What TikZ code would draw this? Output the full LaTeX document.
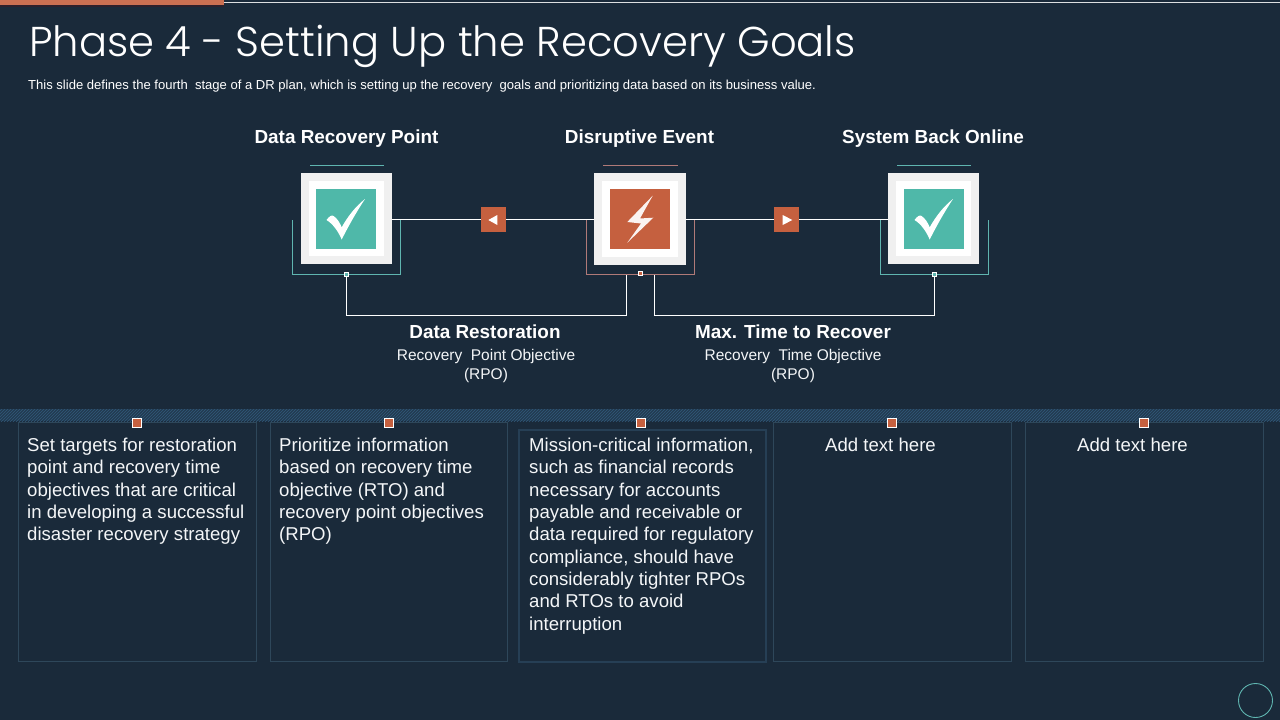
\documentclass[tikz,border=0pt]{standalone}
\usepackage{fontspec}
\usetikzlibrary{patterns}
\setmainfont{Liberation Sans}
\newfontfamily\titlefont{Poppins Light}
\definecolor{bgc}{HTML}{1A2A3A}
\definecolor{redc}{HTML}{C5603F}
\definecolor{tealc}{HTML}{4FB8A9}
\definecolor{tealline}{HTML}{5FB5B0}
\definecolor{redline}{HTML}{B07A78}
\definecolor{cardc}{HTML}{2E475A}
\definecolor{cardd}{HTML}{263F55}
\definecolor{bandc}{HTML}{223B51}
\definecolor{bandl}{HTML}{31597A}
\definecolor{txtc}{HTML}{F4F6F8}
\tikzset{
 x=1pt,y=-1pt,
 outerb/.style={fill=white,draw=black!6,line width=8pt,minimum size=83.3pt,inner sep=0pt,outer sep=4pt},
 tealb/.style={fill=tealc,minimum size=60pt,inner sep=0pt},
 redb/.style={fill=redc,minimum size=60pt,inner sep=0pt},
 arrowb/.style={fill=redc,minimum size=25pt,inner sep=0pt},
 conn/.style={draw=white,line width=1pt},
 tline/.style={draw=tealline,line width=.9pt},
 rline/.style={draw=redline,line width=.9pt},
 dotb/.style={draw=white,line width=.8pt,minimum size=4pt,inner sep=0pt},
 markb/.style={fill=redc,draw=white,line width=.9pt,minimum size=9pt,inner sep=0pt},
 cardb/.style={draw=cardc,line width=.9pt,inner sep=0pt},
 bodyt/.style={text=txtc,align=left,anchor=north west,inner sep=0pt,font=\fontsize{18.6}{22.3}\selectfont},
 headt/.style={text=white,align=center,inner sep=0pt,anchor=base,font=\fontsize{18.9}{22}\selectfont\bfseries},
 subt/.style={text=txtc,align=center,inner sep=0pt,anchor=north,font=\fontsize{15.5}{19}\selectfont},
}
\begin{document}
\begin{tikzpicture}
\useasboundingbox (0,0) rectangle (1280,720);
\fill[bgc] (0,0) rectangle (1280,720);
% top bar
\fill[black!60!red!25!bgc] (0,5) rectangle (224,7);
\fill[redc!90!white] (0,0) rectangle (224,5);
\draw[draw=white!85!bgc,line width=1pt] (224,2.5) -- (1280,2.5);
% title
\node[anchor=base west,inner sep=0pt,text=white,font=\titlefont\fontsize{41.7}{50}\selectfont] (title) at (29,56) {Phase 4 - Setting Up the Recovery Goals};
\node[anchor=base west,inner sep=0pt,text=white,font=\fontsize{13.05}{15}\selectfont] (sub) at (28,89) {This slide defines the fourth\ \ stage of a DR plan, which is setting up the recovery\ \ goals and prioritizing data based on its business value.};
% headings
\node[headt] (h1) at (346.5,143.5) {Data Recovery Point};
\node[headt] (h2) at (639.5,143.5) {Disruptive Event};
\node[headt] (h3) at (933,143.5) {System Back Online};
% boxes
\node[outerb] (b1) at (346.5,218.5) {};
\node[outerb,minimum size=84pt] (b2) at (640,218.5) {};
\node[outerb] (b3) at (933.5,218.5) {};
\node[tealb] (i1) at (346,219) {};
\node[redb] (i2) at (640,219) {};
\node[tealb] (i3) at (934,219) {};
% check marks
\foreach \cx in {346,934}{
 \fill[white] (\cx-19.5,220) .. controls (\cx-17,216.5) and (\cx-14,214.5) .. (\cx-12.5,216)
   .. controls (\cx-9,218) and (\cx-6,223) .. (\cx-4.3,227.3)
   .. controls (\cx+2,216) and (\cx+10,206) .. (\cx+19,199)
   .. controls (\cx+11,211) and (\cx+3,225) .. (\cx-4.3,239.5)
   .. controls (\cx-8,231) and (\cx-13,224) .. (\cx-19.5,220) -- cycle;
}
% bolt
\fill[white!92!redc] (652.7,195.7) -- (627.3,222) -- (641,223.5) -- (627.3,242.7) -- (653.3,217.7) -- (640,218.5) -- cycle;
% arrows
\node[arrowb] (al) at (493.5,219.5) {};
\node[arrowb] (ar) at (786.5,219.5) {};
\fill[white] (488.3,220) -- (497.3,215) -- (497.3,225) -- cycle;
\fill[white] (792.3,220) -- (782.7,215) -- (782.7,225) -- cycle;
% brackets
\draw[tline] (310,165.5) -- (384,165.5);
\draw[rline] (603,165.5) -- (678,165.5);
\draw[tline] (897,165.5) -- (971,165.5);
\coordinate (m1) at (346,274);
\coordinate (m2) at (640.5,273.5);
\coordinate (m3) at (934.5,274);
\draw[tline] (292.5,220) |- (400.5,274.5) -- (400.5,220);
\draw[rline] (586.5,220) |- (694.5,274.5) -- (694.5,220);
\draw[tline] (880.5,220) |- (988.5,274.5) -- (988.5,220);
% horizontal connectors
\draw[conn] (b1.east |- al) -- (al.west);
\draw[conn] (al.east) -- (b2.west |- al);
\draw[conn] (b2.east |- ar) -- (ar.west);
\draw[conn] (ar.east) -- (b3.west |- ar);
% lower connectors
\coordinate (j1) at (626.5,275);
\coordinate (j2) at (654.5,275);
\node[dotb,fill=tealline] (d1) at (m1) {};
\node[dotb,fill=redc] (d2) at (m2) {};
\node[dotb,fill=tealline] (d3) at (m3) {};
\draw[conn] (d1.south) |- (626.5,315.5) -- (j1);
\draw[conn] (j2) -- (654.5,315.5) -| (d3.south);
% lower labels
\node[headt] (l1) at (485,338) {Data Restoration};
\node[headt] (l2) at (793,338) {Max. Time to Recover};
\node[subt] (s1) at (486,349) {Recovery\ \ Point Objective\\(RPO)};
\node[subt] (s2) at (793,349) {Recovery\ \ Time Objective\\(RPO)};
% band
\fill[bandc] (0,409) rectangle (1280,421);
\fill[pattern=north east lines,pattern color=bandl] (0,409) rectangle (1280,421);
% cards
\draw[cardb] (18.5,422) rectangle (256.5,661);
\draw[cardb] (270.5,422) rectangle (507.5,661);
\draw[cardb,draw=cardd,line width=2pt] (519,429.5) rectangle (766,661.5);
\draw[cardb] (773.5,422) rectangle (1011.5,661);
\draw[cardb] (1025.5,422) rectangle (1263.5,661);
% markers
\node[markb] (k1) at (137,423) {};
\node[markb] (k2) at (389,423) {};
\node[markb] (k3) at (640.5,423) {};
\node[markb] (k4) at (892,423) {};
\node[markb] (k5) at (1144,423) {};
% texts
\node[bodyt] (t1) at (27,438) {Set targets for restoration\\point and recovery time\\objectives that are critical\\in developing a successful\\disaster recovery strategy};
\node[bodyt] (t2) at (279,438) {Prioritize information\\based on recovery time\\objective (RTO) and\\recovery point objectives\\(RPO)};
\node[bodyt] (t3) at (529,438) {Mission-critical information,\\such as financial records\\necessary for accounts\\payable and receivable or\\data required for regulatory\\compliance, should have\\considerably tighter RPOs\\and RTOs to avoid\\interruption};
\node[bodyt,anchor=north] (t4) at (880.5,438) {Add text here};
\node[bodyt,anchor=north] (t5) at (1132.5,438) {Add text here};
% circle
\node[draw=tealline,line width=.9pt,circle,minimum size=34pt,inner sep=0pt] (circ) at (1255.5,700.5) {};
\end{tikzpicture}
\end{document}
